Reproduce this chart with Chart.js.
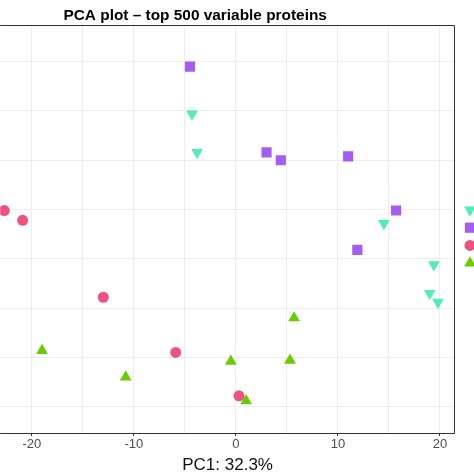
<!DOCTYPE html>
<html>
<head>
<meta charset="utf-8">
<script src="https://cdn.jsdelivr.net/npm/chart.js@4.4.1/dist/chart.umd.min.js"></script>
<style>
  html, body { margin: 0; padding: 0; background: #fff; overflow: hidden; }
  #wrap { position: relative; left: -7px; width: 481px; height: 474px; }
</style>
</head>
<body>
<div id="wrap"><canvas id="pca"></canvas></div>
<script>
var chartTitle = 'PCA plot \u2013 top 500 variable proteins';
var xTitle = 'PC1: 32.3%';

// group order as in the (cropped) legend
var groupColors = ['#50EDB5', '#A65CF2', '#F0527F', '#68CC00'];
var groupShapes = ['triangle', 'rect', 'circle', 'triangle'];
var groupRotation = [180, 0, 0, 0];

// PC1 / PC2 scores
var tealPC1 = [-4.3, -3.8, 14.5, 19.4, 19.0, 19.8];
var tealPC2 = [9.7, 5.8, -1.4, -5.6, -8.5, -9.4];

var purplePC1 = [-4.5, 3.0, 4.4, 11.0, 15.7, 11.9];
var purplePC2 = [14.5, 5.8, 5.0, 5.4, -0.1, -4.1];

var pinkPC1 = [-22.7, -20.9, -13.0, -5.9, 0.3];
var pinkPC2 = [-0.1, -1.1, -8.9, -14.5, -18.9];

var greenPC1 = [-19.0, -10.8, -0.5, 5.3, 5.7, 1.0];
var greenPC2 = [-14.3, -17.0, -15.4, -15.3, -11.0, -19.4];

var xTickStep = 5;

function pts(xs, ys) {
  return xs.map(function (x, i) { return {x: x, y: ys[i]}; });
}

var groups = [pts(tealPC1, tealPC2), pts(purplePC1, purplePC2), pts(pinkPC1, pinkPC2), pts(greenPC1, greenPC2)];

var datasets = groups.map(function (d, i) {
  return {
    data: d,
    pointStyle: groupShapes[i],
    rotation: groupRotation[i],
    pointRadius: groupShapes[i] == 'circle' ? 5.5 : (groupShapes[i] == 'rect' ? 7.2 : 6.8),
    backgroundColor: groupColors[i],
    borderWidth: 0,
    borderColor: groupColors[i]
  };
});

function isMajor(v) { return Math.abs(v % 10) < 1e-6; }

// title, panel border (left side is cropped away) and the legend keys that stick out on the right
var extras = {
  id: 'extras',
  afterDraw: function (chart) {
    var ctx = chart.ctx, a = chart.chartArea;
    ctx.save();
    ctx.strokeStyle = '#333333';
    ctx.lineWidth = 1;
    ctx.beginPath();
    ctx.moveTo(a.left, a.top + 0.5);
    ctx.lineTo(a.right - 0.5, a.top + 0.5);
    ctx.lineTo(a.right - 0.5, a.bottom + 0.5);
    ctx.lineTo(a.left, a.bottom + 0.5);
    ctx.stroke();
    ctx.fillStyle = '#000';
    ctx.font = 'bold 15.4px "Liberation Sans", Arial, sans-serif';
    ctx.textAlign = 'center';
    ctx.textBaseline = 'middle';
    ctx.fillText(chartTitle, a.left + 195, 16);
    datasets.forEach(function (ds, i) {
      ctx.fillStyle = ds.backgroundColor;
      Chart.helpers.drawPoint(ctx, {pointStyle: ds.pointStyle, rotation: ds.rotation, radius: ds.pointRadius, borderWidth: 0}, a.right + 15, 210 + i * 17.7);
    });
    ctx.restore();
  }
};

new Chart(document.getElementById('pca'), {
  type: 'scatter',
  data: {datasets: datasets},
  plugins: [extras],
  options: {
    responsive: true,
    maintainAspectRatio: false,
    animation: false,
    layout: {padding: {left: 0, right: 19, top: 25, bottom: 0}},
    plugins: {legend: {display: false}, tooltip: {enabled: false}, title: {display: false}},
    scales: {
      x: {
        type: 'linear',
        min: -23.1,
        max: 21.47,
        afterFit: function (s) { s.height = 41; },
        ticks: {
          stepSize: xTickStep,
          includeBounds: false,
          padding: 1,
          color: '#4D4D4D',
          font: {size: 13, family: '"Liberation Sans", Arial, sans-serif'},
          maxRotation: 0,
          autoSkip: false,
          callback: function (v) { return isMajor(v) ? v : ''; }
        },
        grid: {
          color: '#EDEDED',
          tickColor: function (c) { return c.tick && isMajor(c.tick.value) ? '#333333' : 'rgba(0,0,0,0)'; },
          tickLength: 3
        },
        border: {display: false},
        title: {
          display: true,
          text: xTitle,
          color: '#111',
          font: {size: 17, lineHeight: 1, family: '"Liberation Sans", Arial, sans-serif'},
          padding: {top: 0, bottom: 0}
        }
      },
      y: {
        type: 'linear',
        min: -22.67,
        max: 18.72,
        afterFit: function (s) { s.width = 0; },
        ticks: {display: false, stepSize: 5, includeBounds: false},
        grid: {color: '#EDEDED', drawTicks: false},
        border: {display: false}
      }
    }
  }
});
</script>
</body>
</html>
